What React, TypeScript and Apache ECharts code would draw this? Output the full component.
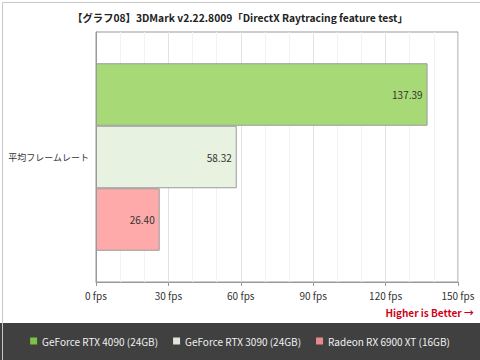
import React, { useEffect, useRef } from "react";
import * as echarts from "echarts";

const titleText = "【グラフ08】3DMark v2.22.8009「DirectX Raytracing feature test」";
const categories = ["平均フレームレート"];
const seriesNames = ["GeForce RTX 4090 (24GB)", "GeForce RTX 3090 (24GB)", "Radeon RX 6900 XT (16GB)"];
const seriesValues = [137.39, 58.32, 26.40];
const barColors = ["#a8d977", "#e8f2e1", "#ffaaaa"];
const legendColors = ["#7cc246", "#dfe6d8", "#e8898e"];
const xTicks = [0, 30, 60, 90, 120, 150];

const FONT = "'Noto Sans CJK JP', 'Noto Sans', sans-serif";

export default function App() {
  const ref = useRef<HTMLDivElement>(null);
  useEffect(() => {
    if (!ref.current) return;
    const chart = echarts.init(ref.current, undefined, { renderer: "svg" });
    chart.setOption({
      animation: false,
      backgroundColor: "#ffffff",
      textStyle: { fontFamily: FONT },
      title: {
        text: titleText,
        left: "center",
        top: 7,
        textStyle: { fontSize: 10.3, fontWeight: "bold", color: "#222", fontFamily: FONT },
      },
      grid: {
        left: 96,
        right: 22,
        top: 32,
        bottom: 78,
        show: true,
        borderColor: "#999",
        borderWidth: 1,
        backgroundColor: "transparent",
        containLabel: false,
        outerBoundsMode: "none",
      },
      xAxis: {
        type: "value",
        min: xTicks[0],
        max: xTicks[xTicks.length - 1],
        interval: 30,
        axisLine: { show: true, lineStyle: { color: "#999" } },
        axisTick: { show: true, length: 4, lineStyle: { color: "#999" } },
        axisLabel: {
          formatter: (v: number) => `${v} fps`,
          color: "#333",
          fontSize: 10,
          margin: 8,
        },
        splitLine: { show: true, lineStyle: { color: "#e2e2e2" } },
        minorTick: { show: false, splitNumber: 3 },
        minorSplitLine: { show: true, lineStyle: { color: "#f2f2f2" } },
      },
      yAxis: {
        type: "category",
        data: categories,
        inverse: true,
        axisLine: { show: true, lineStyle: { color: "#999" } },
        axisTick: { show: false },
        axisLabel: { color: "#333", fontSize: 9, margin: 7 },
      },
      legend: {
        data: seriesNames.map((n, i) => ({ name: n, itemStyle: { color: legendColors[i], borderWidth: 0 } })),
        top: 331,
        left: "center",
        icon: "rect",
        itemWidth: 7,
        itemHeight: 7,
        itemGap: 15,
        textStyle: { color: "#f0f0f0", fontSize: 10, fontFamily: FONT },
        selectedMode: false,
      },
      graphic: [
        {
          type: "rect",
          left: 0,
          top: 323,
          shape: { width: 480, height: 37 },
          style: { fill: "#404040" },
          z: -1,
        },
        {
          type: "rect",
          left: 0,
          top: 0,
          shape: { x: 0.5, y: 0.5, width: 479, height: 359 },
          style: { fill: "none", stroke: "#c8c8c8", lineWidth: 1 },
          silent: true,
          z: 10,
        },
        {
          type: "text",
          right: 6,
          top: 307,
          style: {
            text: "Higher is Better →",
            fill: "#d0021b",
            fontSize: 10,
            fontWeight: "bold",
            fontFamily: FONT,
          },
        },
      ],
      series: seriesNames.map((name, i) => ({
        name,
        type: "bar",
        data: [seriesValues[i]],
        barGap: "0%",
        barCategoryGap: "25%",
        itemStyle: { color: barColors[i], borderColor: "#9a9a9a", borderWidth: 1 },
        label: {
          show: true,
          position: "insideRight",
          formatter: (p: any) => Number(p.value).toFixed(2),
          color: "#333",
          fontSize: 10,
          distance: 5,
        },
      })),
    });
    return () => chart.dispose();
  }, []);
  return <div ref={ref} style={{ position: "fixed", left: 0, top: 0, width: 480, height: 360 }} />;
}
